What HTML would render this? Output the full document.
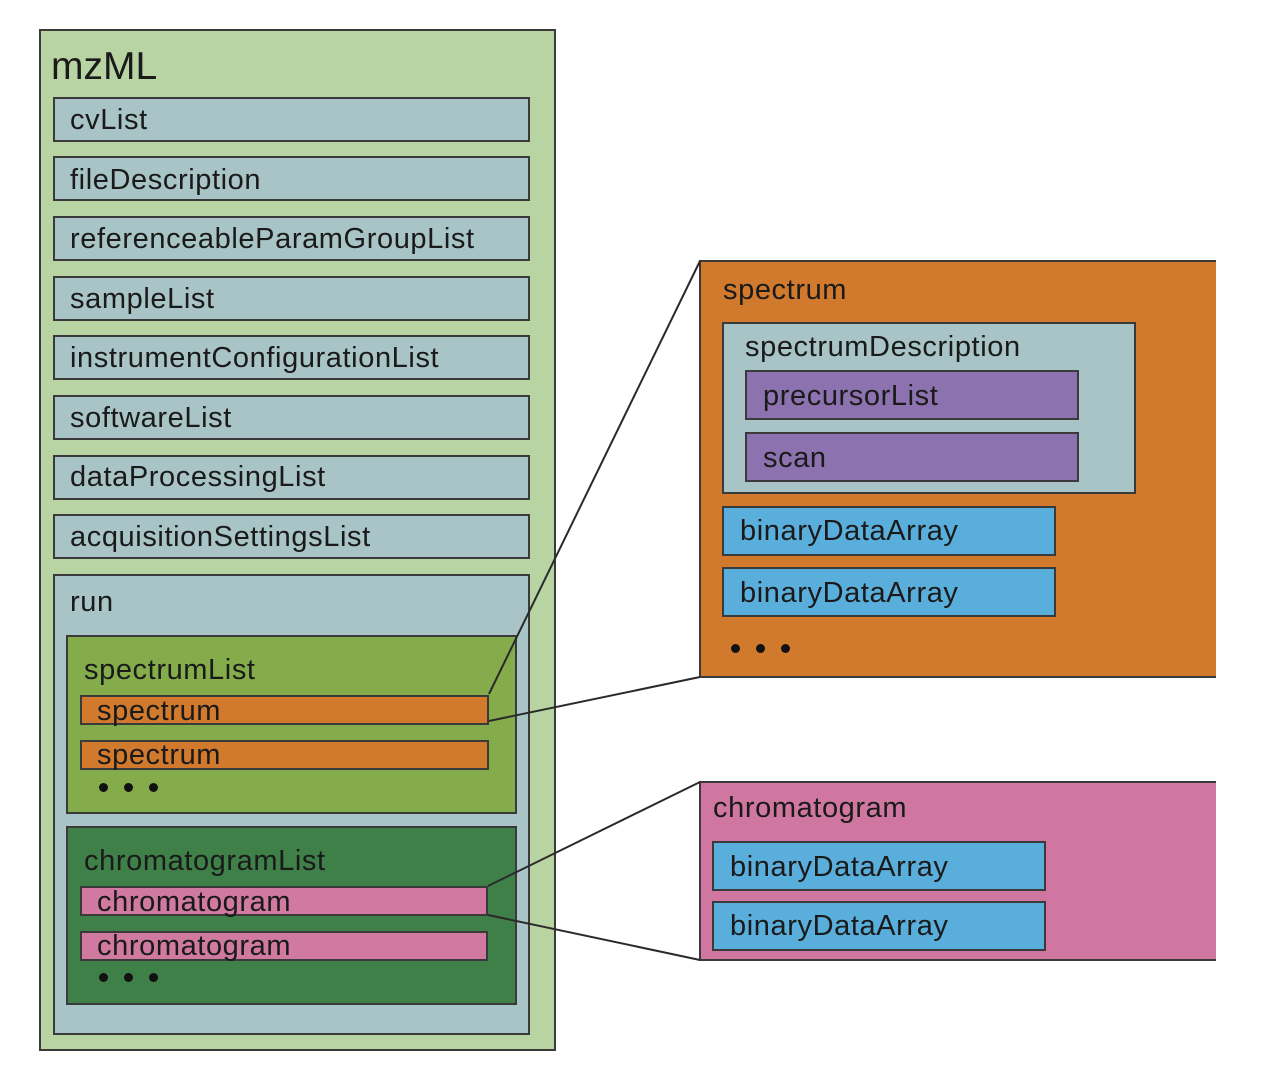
<!DOCTYPE html>
<html><head><meta charset="utf-8"><style>
body{margin:0;width:1269px;height:1066px;background:#fff;position:relative;overflow:hidden;font-family:"Liberation Sans",sans-serif;color:#1a1a1a}
.b{position:absolute;box-sizing:border-box;border:2px solid #3a3a3a}
.t{position:absolute;font-size:29px;letter-spacing:0.6px;white-space:nowrap}
.lb{background:#a8c4c6}
.bl{background:#5aaedc}
.pu{background:#8c72ae}
.d{position:absolute;width:9px;height:9px;border-radius:50%;background:#111}
</style></head><body>
<div class="b" style="left:39px;top:29px;width:517px;height:1022px;background:#b8d4a2"></div>
<div class="t" style="left:51px;top:45px;font-size:39px;letter-spacing:0">mzML</div>
<div class="b lb" style="left:53px;top:97px;width:477px;height:45px"></div><div class="t" style="left:70px;top:104px">cvList</div>
<div class="b lb" style="left:53px;top:156px;width:477px;height:45px"></div><div class="t" style="left:70px;top:164px">fileDescription</div>
<div class="b lb" style="left:53px;top:216px;width:477px;height:45px"></div><div class="t" style="left:70px;top:223px">referenceableParamGroupList</div>
<div class="b lb" style="left:53px;top:276px;width:477px;height:45px"></div><div class="t" style="left:70px;top:283px">sampleList</div>
<div class="b lb" style="left:53px;top:335px;width:477px;height:45px"></div><div class="t" style="left:70px;top:342px">instrumentConfigurationList</div>
<div class="b lb" style="left:53px;top:395px;width:477px;height:45px"></div><div class="t" style="left:70px;top:402px">softwareList</div>
<div class="b lb" style="left:53px;top:455px;width:477px;height:45px"></div><div class="t" style="left:70px;top:461px">dataProcessingList</div>
<div class="b lb" style="left:53px;top:514px;width:477px;height:45px"></div><div class="t" style="left:70px;top:521px">acquisitionSettingsList</div>
<div class="b lb" style="left:53px;top:574px;width:477px;height:461px"></div><div class="t" style="left:70px;top:586px">run</div>
<div class="b" style="left:66px;top:635px;width:451px;height:179px;background:#84ac4a"></div><div class="t" style="left:84px;top:654px">spectrumList</div>
<div class="b" style="left:80px;top:695px;width:409px;height:30px;background:#d17a2e"></div><div class="t" style="left:97px;top:695px">spectrum</div>
<div class="b" style="left:80px;top:740px;width:409px;height:30px;background:#d17a2e"></div><div class="t" style="left:97px;top:739px">spectrum</div>
<div class="d" style="left:99px;top:783px"></div><div class="d" style="left:124px;top:783px"></div><div class="d" style="left:149px;top:783px"></div>
<div class="b" style="left:66px;top:826px;width:451px;height:179px;background:#3f7f48"></div><div class="t" style="left:84px;top:845px">chromatogramList</div>
<div class="b" style="left:80px;top:886px;width:408px;height:30px;background:#d07aa2"></div><div class="t" style="left:97px;top:886px">chromatogram</div>
<div class="b" style="left:80px;top:931px;width:408px;height:30px;background:#d07aa2"></div><div class="t" style="left:97px;top:930px">chromatogram</div>
<div class="d" style="left:99px;top:973px"></div><div class="d" style="left:124px;top:973px"></div><div class="d" style="left:149px;top:973px"></div>

<div class="b" style="left:699px;top:260px;width:517px;height:418px;background:#d17a2e;border-width:2px 0 2px 2px"></div>
<div class="t" style="left:723px;top:274px">spectrum</div>
<div class="b lb" style="left:722px;top:322px;width:414px;height:172px"></div><div class="t" style="left:745px;top:331px">spectrumDescription</div>
<div class="b pu" style="left:745px;top:370px;width:334px;height:50px"></div><div class="t" style="left:763px;top:380px">precursorList</div>
<div class="b pu" style="left:745px;top:432px;width:334px;height:50px"></div><div class="t" style="left:763px;top:442px">scan</div>
<div class="b bl" style="left:722px;top:506px;width:334px;height:50px"></div><div class="t" style="left:740px;top:515px">binaryDataArray</div>
<div class="b bl" style="left:722px;top:567px;width:334px;height:50px"></div><div class="t" style="left:740px;top:577px">binaryDataArray</div>
<div class="d" style="left:731px;top:644px"></div><div class="d" style="left:756px;top:644px"></div><div class="d" style="left:781px;top:644px"></div>

<div class="b" style="left:699px;top:781px;width:517px;height:180px;background:#cf77a0;border-width:2px 0 2px 2px"></div>
<div class="t" style="left:713px;top:792px">chromatogram</div>
<div class="b bl" style="left:712px;top:841px;width:334px;height:50px"></div><div class="t" style="left:730px;top:851px">binaryDataArray</div>
<div class="b bl" style="left:712px;top:901px;width:334px;height:50px"></div><div class="t" style="left:730px;top:910px">binaryDataArray</div>

<svg style="position:absolute;left:0;top:0" width="1269" height="1066">
<g stroke="#2a2a2a" stroke-width="2" fill="none">
<line x1="489" y1="694" x2="700" y2="261"/>
<line x1="489" y1="721" x2="700" y2="677"/>
<line x1="488" y1="886" x2="700" y2="782"/>
<line x1="488" y1="915" x2="700" y2="960"/>
</g></svg>
</body></html>
